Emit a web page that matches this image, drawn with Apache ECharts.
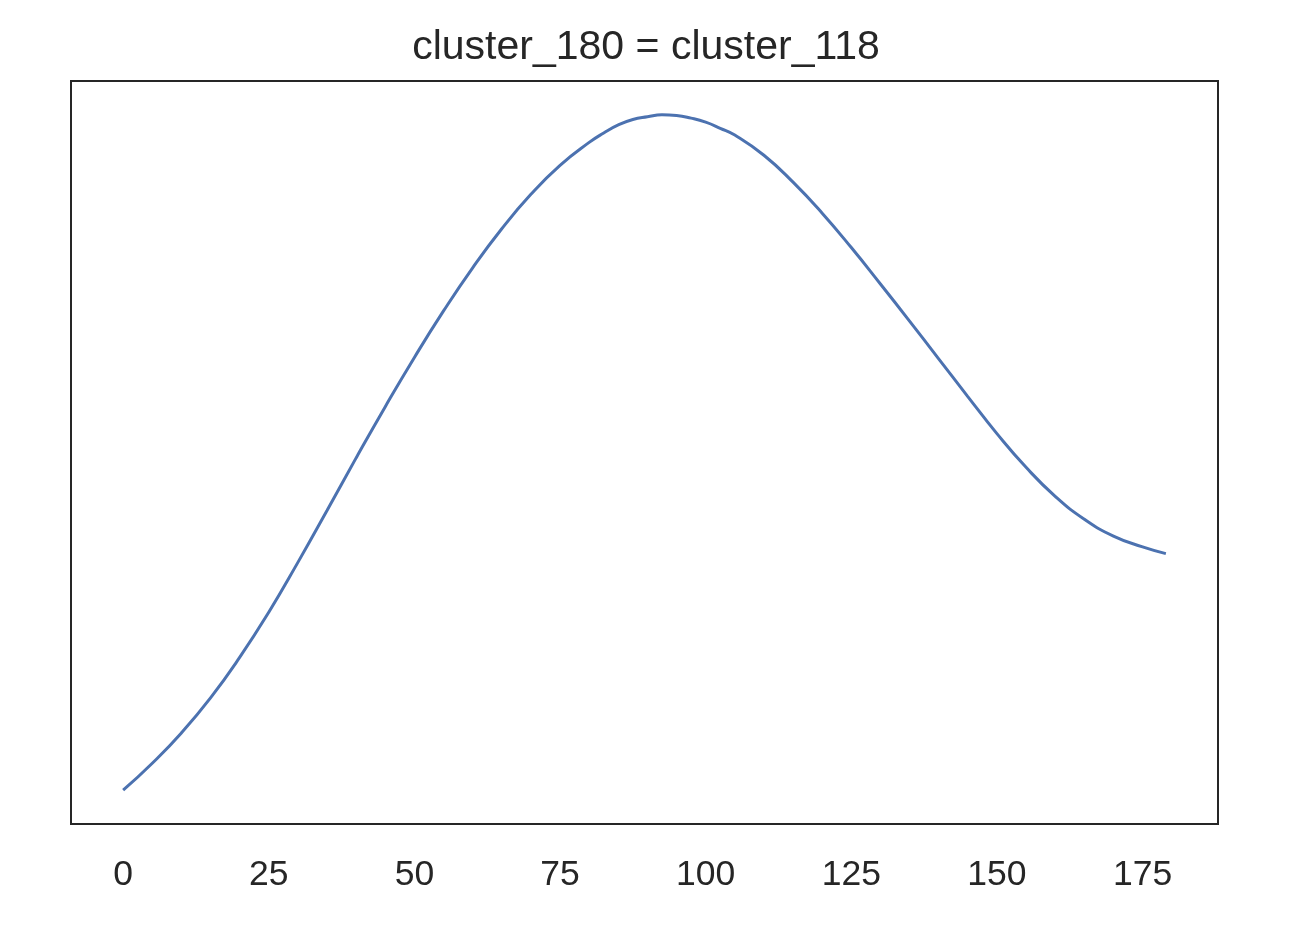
<!DOCTYPE html>
<html>
<head>
<meta charset="utf-8">
<script src="https://cdn.jsdelivr.net/npm/echarts@6/dist/echarts.min.js"></script>
<style>
  html, body { margin: 0; padding: 0; background: #ffffff; }
  #chart { width: 1292px; height: 928px; }
</style>
</head>
<body>
<div id="chart"></div>
<script>
const chartTitle = 'cluster_180 = cluster_118';
const xValues = [0, 5, 10, 15, 20, 25, 30, 35, 40, 45, 50, 55, 60, 65, 70, 75, 80, 82.5, 85, 87.5,
  90, 92.5, 95, 97.5, 100, 102.5, 105, 110, 115, 120, 125, 130, 135, 140, 145, 150, 155, 160,
  165, 170, 175, 179];
const yValues = [0.003, 0.043, 0.088, 0.140, 0.200, 0.267, 0.341, 0.418, 0.496, 0.572, 0.645,
  0.714, 0.778, 0.836, 0.887, 0.930, 0.964, 0.978, 0.990, 0.998,
  1.002, 1.005, 1.004, 1.000, 0.994, 0.985, 0.975, 0.945, 0.905,
  0.859, 0.808, 0.754, 0.699, 0.643, 0.587, 0.532, 0.482, 0.439, 0.405, 0.380, 0.364, 0.354];
const xTickValues = [0, 25, 50, 75, 100, 125, 150, 175];

const xLo = Math.min(...xValues), xHi = Math.max(...xValues);
const yLo = Math.min(...yValues), yHi = Math.max(...yValues);
const xPad = (xHi - xLo) * 0.05, yPad = (yHi - yLo) * 0.05;

const chart = echarts.init(document.getElementById('chart'), null, { renderer: 'canvas' });
const fontFamily = '"Liberation Sans", Arial, Helvetica, sans-serif';

chart.setOption({
  animation: false,
  backgroundColor: '#ffffff',
  title: {
    text: chartTitle,
    left: 'center',
    top: 22,
    textStyle: { color: '#262626', fontSize: 41, fontWeight: 'normal', fontFamily: fontFamily }
  },
  grid: {
    left: 71, right: 74, top: 81, bottom: 104,
    show: true,
    borderColor: '#262626',
    borderWidth: 2,
    backgroundColor: 'transparent'
  },
  xAxis: {
    type: 'value',
    min: xLo - xPad,
    max: xHi + xPad,
    axisLine: { show: false },
    axisTick: { show: false },
    splitLine: { show: false },
    axisLabel: {
      customValues: xTickValues,
      color: '#262626',
      fontSize: 35.5,
      fontFamily: fontFamily,
      margin: 33
    }
  },
  yAxis: {
    type: 'value',
    min: yLo - yPad,
    max: yHi + yPad,
    axisLine: { show: false },
    axisTick: { show: false },
    splitLine: { show: false },
    axisLabel: { show: false }
  },
  series: [{
    type: 'line',
    data: xValues.map((x, i) => [x, yValues[i]]),
    smooth: 0.5,
    showSymbol: false,
    lineStyle: { color: '#4C72B0', width: 3 }
  }]
});
</script>
</body>
</html>
